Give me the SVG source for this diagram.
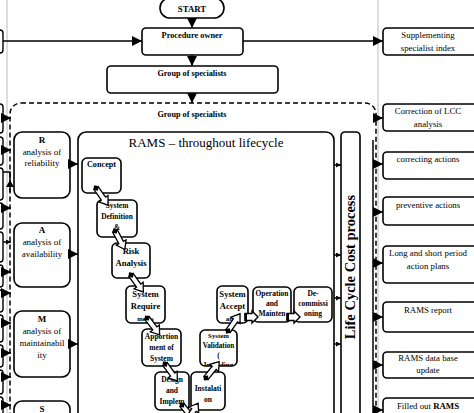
<svg xmlns="http://www.w3.org/2000/svg" width="474" height="413" viewBox="0 0 474 413">
<defs>
<style>
.bx{fill:#fff;stroke:#000;stroke-width:1.6}
.sm{fill:#fff;stroke:#000;stroke-width:1.4}
.t{font-family:"Liberation Serif",serif;text-anchor:middle;fill:#000}
.b{font-weight:bold}
.ln{stroke:#000;stroke-width:1.5;fill:none}
.lane{stroke:#bbb;stroke-width:1;fill:none}
</style>
<marker id="ah" viewBox="0 0 10 10" refX="10" refY="5" markerWidth="5" markerHeight="5" orient="auto" markerUnits="userSpaceOnUse">
<path d="M0,0 L10,5 L0,10 z" fill="#000"/>
</marker>
<marker id="ahb" viewBox="0 0 10 10" refX="10" refY="5" markerWidth="10" markerHeight="10" orient="auto" markerUnits="userSpaceOnUse">
<path d="M0,0 L10,5 L0,10 z" fill="#000"/>
</marker>
<g id="ha">
<polygon points="0,-2.6 13,-2.6 13,-5.6 21,0 13,5.6 13,2.6 0,2.6" fill="#fff" stroke="#000" stroke-width="1.3"/>
<rect x="-2.3" y="-2.3" width="4.6" height="4.6" transform="rotate(45)" fill="#000"/>
</g>
<g id="hh">
<polygon points="0,-3.5 7,-3.5 7,-6 13,0 7,6 7,3.5 0,3.5" fill="#fff" stroke="#000" stroke-width="1.4"/>
<rect x="-0.5" y="-3.5" width="2.5" height="7" fill="#000"/>
</g>
<clipPath id="c-def"><rect x="97" y="200" width="40" height="37" rx="5"/></clipPath>
<clipPath id="c-req"><rect x="126" y="286" width="39" height="37" rx="5"/></clipPath>
<clipPath id="c-val"><rect x="200" y="330" width="37" height="36" rx="5"/></clipPath>
<clipPath id="c-acc"><rect x="217" y="286" width="31" height="37" rx="5"/></clipPath>
<clipPath id="c-des"><rect x="155" y="372" width="34" height="38" rx="5"/></clipPath>
</defs>
<rect width="474" height="413" fill="#fff"/>
<line class="lane" x1="7" y1="0" x2="7" y2="413"/>
<line class="lane" x1="378" y1="0" x2="378" y2="413"/>

<g id="left-edge-boxes">
<rect class="sm" x="-12" y="30" width="15" height="23" rx="3"/>
<rect class="sm" x="-12" y="104" width="15" height="29" rx="3"/>
<rect class="sm" x="-12" y="137" width="15" height="28" rx="3"/>
<rect class="sm" x="-12" y="168" width="15" height="32" rx="3"/>
<rect class="sm" x="-12" y="203" width="15" height="26" rx="3"/>
<rect class="sm" x="-12" y="232" width="15" height="30" rx="3"/>
<rect class="sm" x="-12" y="265" width="15" height="22" rx="3"/>
<rect class="sm" x="-12" y="290" width="15" height="22" rx="3"/>
<rect class="sm" x="-12" y="315" width="15" height="27" rx="3"/>
<rect class="sm" x="-12" y="345" width="15" height="22" rx="3"/>
<rect class="sm" x="-12" y="370" width="15" height="24" rx="3"/>
<rect class="sm" x="-12" y="397" width="15" height="22" rx="3"/>
</g>

<g id="start"><rect class="bx" x="160" y="-2" width="64" height="20" rx="10"/><text class="t b" x="192" y="12" font-size="8.8">START</text></g>
<g id="procedure-owner"><rect class="bx" x="142" y="28" width="101" height="27" rx="4"/><text class="t b" x="192" y="38" font-size="8.3">Procedure owner</text></g>
<g id="group1"><rect class="bx" x="107" y="66" width="171" height="27" rx="4"/><text class="t b" x="192" y="76" font-size="8.2">Group of specialists</text></g>
<g id="group2"><rect x="10" y="103" width="366" height="320" rx="11" fill="none" stroke="#000" stroke-width="1.5" stroke-dasharray="5,3"/><text class="t b" x="192" y="117" font-size="8.2">Group of specialists</text></g>

<g id="r-supp"><rect class="bx" x="383" y="28" width="98" height="27" rx="4"/><text class="t" x="428" y="38" font-size="8.8">Supplementing</text><text class="t" x="428" y="51" font-size="8.8">specialist index</text></g>
<g id="r-lcc"><rect class="bx" x="383" y="104" width="98" height="27" rx="4"/><text class="t" x="428" y="114" font-size="8.8">Correction of LCC</text><text class="t" x="428" y="127" font-size="8.8">analysis</text></g>
<g id="r-corr"><rect class="bx" x="383" y="152" width="98" height="27" rx="4"/><text class="t" x="428" y="162" font-size="8.8">correcting actions</text></g>
<g id="r-prev"><rect class="bx" x="383" y="197" width="98" height="28" rx="4"/><text class="t" x="428" y="208" font-size="8.8">preventive actions</text></g>
<g id="r-plans"><rect class="bx" x="383" y="246" width="98" height="37" rx="4"/><text class="t" x="428" y="256" font-size="8.8">Long and short period</text><text class="t" x="428" y="269" font-size="8.8">action plans</text></g>
<g id="r-report"><rect class="bx" x="383" y="302" width="98" height="30" rx="4"/><text class="t" x="428" y="313" font-size="8.8">RAMS report</text></g>
<g id="r-db"><rect class="bx" x="383" y="352" width="98" height="26" rx="4"/><text class="t" x="428" y="361" font-size="8.8">RAMS data base</text><text class="t" x="428" y="373" font-size="8.8">update</text></g>
<g id="r-filled"><rect class="bx" x="383" y="398" width="98" height="26" rx="4"/><text class="t" x="428" y="409" font-size="8.8">Filled out <tspan class="b">RAMS</tspan></text></g>

<g id="rel"><rect class="bx" x="14" y="132" width="56" height="66" rx="8"/><text class="t" x="42" y="143" font-size="9"><tspan class="b">R</tspan><tspan x="42" dy="11.5">analysis of</tspan><tspan x="42" dy="11.5">reliability</tspan></text></g>
<g id="avail"><rect class="bx" x="14" y="223" width="56" height="64" rx="8"/><text class="t" x="42" y="233" font-size="9"><tspan class="b">A</tspan><tspan x="42" dy="12">analysis of</tspan><tspan x="42" dy="12">availability</tspan></text></g>
<g id="maint"><rect class="bx" x="14" y="311" width="56" height="66" rx="8"/><text class="t" x="42" y="322" font-size="9"><tspan class="b">M</tspan><tspan x="42" dy="12">analysis of</tspan><tspan x="42" dy="12">maintainabil</tspan><tspan x="42" dy="12">ity</tspan></text></g>
<g id="safety"><rect class="bx" x="14" y="401" width="56" height="30" rx="8"/><text class="t b" x="42" y="412" font-size="9">S</text></g>

<g id="rams"><rect class="bx" x="78" y="132" width="256" height="300" rx="8"/><text class="t" x="206" y="147" font-size="13">RAMS – throughout lifecycle</text></g>
<g id="lcc"><rect class="bx" x="341" y="132" width="19" height="300" rx="4"/><text class="t b" transform="translate(355,267) rotate(-90)" font-size="14.5">Life Cycle Cost process</text></g>

<g id="concept"><rect class="bx" x="82" y="158" width="39" height="35" rx="5"/><text class="t b" x="101.5" y="167" font-size="8.2">Concept</text></g>
<g id="sysdef"><rect class="bx" x="97" y="200" width="40" height="37" rx="5"/><g clip-path="url(#c-def)"><text class="t b" x="117" y="208" font-size="7.4">System</text><text class="t b" x="117" y="219" font-size="7.4">Definition</text><text class="t b" x="117" y="230" font-size="7.4">&amp;</text></g></g>
<g id="risk"><rect class="bx" x="112" y="243" width="38" height="35" rx="5"/><text class="t b" x="131" y="254" font-size="8.6">Risk</text><text class="t b" x="131" y="266" font-size="8.6">Analysis</text></g>
<g id="sysreq"><rect class="bx" x="126" y="286" width="39" height="37" rx="5"/><g clip-path="url(#c-req)"><text class="t b" x="145.5" y="297" font-size="8.6">System</text><text class="t b" x="145.5" y="309" font-size="8.6">Require</text><text class="t b" x="145.5" y="321" font-size="6.5">ments</text></g></g>
<g id="apport"><rect class="bx" x="142" y="329" width="39" height="37" rx="5"/><text class="t b" x="161.5" y="339" font-size="7.5">Apportion</text><text class="t b" x="161.5" y="350" font-size="7.5">ment of</text><text class="t b" x="161.5" y="361" font-size="7.5">System</text></g>
<g id="design"><rect class="bx" x="155" y="372" width="34" height="38" rx="5"/><g clip-path="url(#c-des)"><text class="t b" x="172" y="382" font-size="7.5">Design</text><text class="t b" x="172" y="393" font-size="7.5">and</text><text class="t b" x="172" y="404" font-size="7.5">Implem</text></g></g>
<g id="install"><rect class="bx" x="191" y="372" width="34" height="38" rx="5"/><text class="t b" x="208" y="391" font-size="7.5">Instalati</text><text class="t b" x="208" y="402" font-size="7.5">on</text></g>
<g id="valid"><rect class="bx" x="200" y="330" width="37" height="36" rx="5"/><g clip-path="url(#c-val)"><text class="t b" x="218.5" y="338" font-size="6.8">System</text><text class="t b" x="218.5" y="348" font-size="7.2">Validation</text><text class="t b" x="218.5" y="358" font-size="7.2">(</text><text class="t b" x="218.5" y="368" font-size="7.2">Including</text></g></g>
<g id="accept"><rect class="bx" x="217" y="286" width="31" height="37" rx="5"/><g clip-path="url(#c-acc)"><text class="t b" x="232.5" y="297" font-size="8.6">System</text><text class="t b" x="232.5" y="309" font-size="8.6">Accept</text><text class="t b" x="232.5" y="321" font-size="7">ance</text></g></g>
<g id="operation"><rect class="bx" x="253" y="287" width="38" height="35" rx="5"/><text class="t b" x="272" y="296" font-size="7.5">Operation</text><text class="t b" x="272" y="306" font-size="7.5">and</text><text class="t b" x="272" y="316" font-size="7.5">Mainten</text></g>
<g id="decom"><rect class="bx" x="294" y="287" width="38" height="35" rx="5"/><text class="t b" x="313" y="296" font-size="7.5">De-</text><text class="t b" x="313" y="306" font-size="7.5">commissi</text><text class="t b" x="313" y="316" font-size="7.5">oning</text></g>

<g id="connectors">
<line class="ln" x1="192" y1="18" x2="192" y2="28" marker-end="url(#ahb)"/>
<line class="ln" x1="192" y1="55" x2="192" y2="66" marker-end="url(#ahb)"/>
<line class="ln" x1="192" y1="93" x2="192" y2="103" marker-end="url(#ahb)"/>
<line class="ln" x1="3" y1="41" x2="142" y2="41" marker-end="url(#ahb)"/>
<line class="ln" x1="243" y1="41" x2="383" y2="41" marker-end="url(#ahb)"/>
<line class="ln" x1="376" y1="118" x2="383" y2="118" marker-end="url(#ahb)"/>
<line class="ln" x1="373" y1="140" x2="373" y2="413"/>
<line class="ln" x1="373" y1="164" x2="383" y2="164" marker-end="url(#ahb)"/>
<line class="ln" x1="373" y1="212" x2="383" y2="212" marker-end="url(#ahb)"/>
<line class="ln" x1="373" y1="263" x2="383" y2="263" marker-end="url(#ahb)"/>
<line class="ln" x1="373" y1="317" x2="383" y2="317" marker-end="url(#ahb)"/>
<line class="ln" x1="373" y1="365" x2="383" y2="365" marker-end="url(#ahb)"/>
<line class="ln" x1="373" y1="410" x2="383" y2="410" marker-end="url(#ahb)"/>
<line class="ln" x1="3" y1="118" x2="11" y2="118" marker-end="url(#ahb)"/>
<line class="ln" x1="3" y1="150" x2="11" y2="150" marker-end="url(#ahb)"/>
<polyline class="ln" points="3,172 10,172 10,192"/>
<path d="M6,187 L10,180 L14,187 z" fill="#000"/>
<line class="ln" x1="3" y1="208" x2="11" y2="208" marker-end="url(#ahb)"/>
<line class="ln" x1="3" y1="242" x2="11" y2="242" marker-end="url(#ah)"/>
<line class="ln" x1="3" y1="272" x2="11" y2="272" marker-end="url(#ahb)"/>
<line class="ln" x1="3" y1="293" x2="11" y2="293" marker-end="url(#ahb)"/>
<line class="ln" x1="3" y1="323" x2="11" y2="323" marker-end="url(#ahb)"/>
<line class="ln" x1="3" y1="353" x2="11" y2="353" marker-end="url(#ahb)"/>
<line class="ln" x1="3" y1="377" x2="11" y2="377" marker-end="url(#ahb)"/>
<line class="ln" x1="3" y1="405" x2="11" y2="405" marker-end="url(#ahb)"/>
<line class="ln" x1="70" y1="164" x2="78" y2="164" marker-end="url(#ahb)"/>
<line class="ln" x1="70" y1="254" x2="78" y2="254" marker-end="url(#ahb)"/>
<line class="ln" x1="70" y1="344" x2="78" y2="344" marker-end="url(#ahb)"/>
<line class="ln" x1="334" y1="165" x2="341" y2="165" marker-end="url(#ah)"/>
<line class="ln" x1="334" y1="255" x2="341" y2="255" marker-end="url(#ah)"/>
<line class="ln" x1="334" y1="298" x2="341" y2="298" marker-end="url(#ah)"/>
<line class="ln" x1="334" y1="344" x2="341" y2="344" marker-end="url(#ah)"/>
<use href="#ha" transform="translate(96,188) rotate(55)"/>
<use href="#ha" transform="translate(115,231) rotate(62)"/>
<use href="#ha" transform="translate(131,275) rotate(54)"/>
<use href="#ha" transform="translate(147,318) rotate(53)"/>
<use href="#ha" transform="translate(165,364) rotate(54)"/>
<use href="#ha" transform="translate(182,405) rotate(52)"/>
<use href="#ha" transform="translate(187,421) rotate(-58)"/>
<use href="#ha" transform="translate(206,378) rotate(-51)"/>
<use href="#ha" transform="translate(228,331) rotate(-55)"/>
<use href="#hh" transform="translate(245,317)"/>
<use href="#hh" transform="translate(287,317)"/>
</g>
</svg>
